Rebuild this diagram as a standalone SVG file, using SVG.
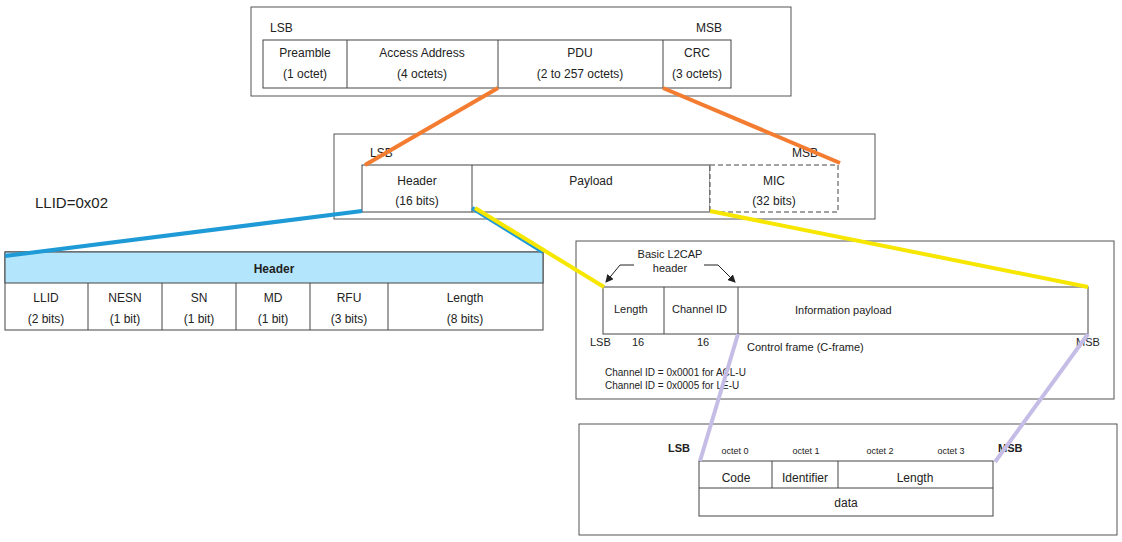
<svg xmlns="http://www.w3.org/2000/svg" width="1122" height="542" viewBox="0 0 1122 542">
<style>
text{font-family:"Liberation Sans",Arial,sans-serif;fill:#222}
.t{font-size:12px;text-anchor:middle}
.s{font-size:11px}
.o{font-size:9px;text-anchor:middle}
.frame{fill:#fff;stroke:#555;stroke-width:1}
.cell{fill:#fff;stroke:#444;stroke-width:1}
</style>
<defs><marker id="ah" markerWidth="8" markerHeight="8" refX="7" refY="4" orient="auto"><path d="M0,0 L8,4 L0,8z" fill="#222"/></marker></defs>
<g id="frame1">
<rect class="frame" x="251" y="7" width="540" height="89"/>
<text x="270" y="32" style="font-size:12px">LSB</text><text x="696" y="32" style="font-size:12px">MSB</text>
<rect class="cell" x="263" y="40" width="468" height="48"/>
<line x1="347" y1="40" x2="347" y2="88" stroke="#444"/><line x1="498" y1="40" x2="498" y2="88" stroke="#444"/><line x1="663" y1="40" x2="663" y2="88" stroke="#444"/>
<text class="t" x="305" y="57">Preamble</text><text class="t" x="305" y="78">(1 octet)</text>
<text class="t" x="422" y="57">Access Address</text><text class="t" x="422" y="78">(4 octets)</text>
<text class="t" x="580" y="57">PDU</text><text class="t" x="580" y="78">(2 to 257 octets)</text>
<text class="t" x="697" y="57">CRC</text><text class="t" x="697" y="78">(3 octets)</text>
</g>
<g id="frame2">
<rect class="frame" x="334" y="134" width="541" height="85"/>
<text x="370" y="157" style="font-size:12px">LSB</text><text x="792" y="157" style="font-size:12px">MSB</text>
<rect class="cell" x="362" y="165" width="348" height="47"/>
<line x1="472" y1="165" x2="472" y2="212" stroke="#444"/>
<rect x="710" y="165" width="128" height="47" fill="#fff" stroke="#444" stroke-dasharray="5,3"/>
<text class="t" x="417" y="185">Header</text><text class="t" x="417" y="205">(16 bits)</text>
<text class="t" x="591" y="185">Payload</text>
<text class="t" x="774" y="185">MIC</text><text class="t" x="774" y="205">(32 bits)</text>
</g>
<g id="llid"><text x="35" y="208" style="font-size:15px">LLID=0x02</text></g>
<g id="header">
<rect x="5" y="252" width="538" height="78" fill="#fff" stroke="#444"/>
<rect x="5" y="252" width="538" height="31" fill="#b3e5fc" stroke="#444"/>
<text class="t" x="274" y="273" font-weight="bold">Header</text>
<g stroke="#444"><line x1="88" y1="283" x2="88" y2="330"/><line x1="162" y1="283" x2="162" y2="330"/><line x1="236" y1="283" x2="236" y2="330"/><line x1="310" y1="283" x2="310" y2="330"/><line x1="388" y1="283" x2="388" y2="330"/></g>
<text class="t" x="46" y="302">LLID</text><text class="t" x="46" y="323">(2 bits)</text>
<text class="t" x="125" y="302">NESN</text><text class="t" x="125" y="323">(1 bit)</text>
<text class="t" x="199" y="302">SN</text><text class="t" x="199" y="323">(1 bit)</text>
<text class="t" x="273" y="302">MD</text><text class="t" x="273" y="323">(1 bit)</text>
<text class="t" x="349" y="302">RFU</text><text class="t" x="349" y="323">(3 bits)</text>
<text class="t" x="465" y="302">Length</text><text class="t" x="465" y="323">(8 bits)</text>
</g>
<g id="l2cap">
<rect class="frame" x="576" y="241" width="538" height="158"/>
<text class="s" x="670" y="258" text-anchor="middle">Basic L2CAP</text><text class="s" x="670" y="272" text-anchor="middle">header</text>
<path d="M634,265 L620,265 L606,282" fill="none" stroke="#222" marker-end="url(#ah)"/>
<path d="M704,265 L718,265 L735,282" fill="none" stroke="#222" marker-end="url(#ah)"/>
<rect class="cell" x="603" y="287" width="485" height="47"/>
<line x1="664" y1="287" x2="664" y2="334" stroke="#444"/><line x1="738" y1="287" x2="738" y2="334" stroke="#444"/>
<text class="s" x="614" y="313">Length</text><text class="s" x="672" y="313">Channel ID</text>
<text class="s" x="795" y="314">Information payload</text>
<text class="s" x="590" y="346">LSB</text><text class="s" x="632" y="346">16</text><text class="s" x="697" y="346">16</text>
<text class="s" x="747" y="351">Control frame (C-frame)</text>
<text class="s" x="1076" y="346">MSB</text>
<text class="s" x="605" y="376" style="font-size:10px">Channel ID = 0x0001 for ACL-U</text>
<text class="s" x="605" y="389" style="font-size:10px">Channel ID = 0x0005 for LE-U</text>
</g>
<g id="signal">
<rect class="frame" x="579" y="424" width="538" height="111"/>
<text x="668" y="452" style="font-size:11px;font-weight:bold">LSB</text><text x="998" y="452" style="font-size:11px;font-weight:bold">MSB</text>
<text class="o" x="735" y="454">octet 0</text><text class="o" x="806" y="454">octet 1</text><text class="o" x="880" y="454">octet 2</text><text class="o" x="951" y="454">octet 3</text>
<rect class="cell" x="699" y="461" width="294" height="55"/>
<line x1="699" y1="488" x2="993" y2="488" stroke="#444"/>
<line x1="772" y1="461" x2="772" y2="488" stroke="#444"/><line x1="838" y1="461" x2="838" y2="488" stroke="#444"/>
<text class="t" x="736" y="482">Code</text><text class="t" x="805" y="482">Identifier</text><text class="t" x="915" y="482">Length</text>
<text class="t" x="846" y="507">data</text>
</g>
<g id="connectors" stroke-width="4" fill="none">
<line x1="498" y1="88" x2="365" y2="165" stroke="#f47c30"/>
<line x1="663" y1="88" x2="840" y2="163" stroke="#f47c30"/>
<line x1="362" y1="211" x2="5" y2="256" stroke="#1e9ad6"/>
<line x1="472" y1="208" x2="543" y2="252" stroke="#1e9ad6"/>
<line x1="475" y1="208" x2="604" y2="287" stroke="#f6e600"/>
<line x1="710" y1="211" x2="1088" y2="287" stroke="#f6e600"/>
<line x1="738" y1="334" x2="700" y2="461" stroke="#c5bde6"/>
<line x1="1088" y1="334" x2="995" y2="462" stroke="#c5bde6"/>
</g>
</svg>
